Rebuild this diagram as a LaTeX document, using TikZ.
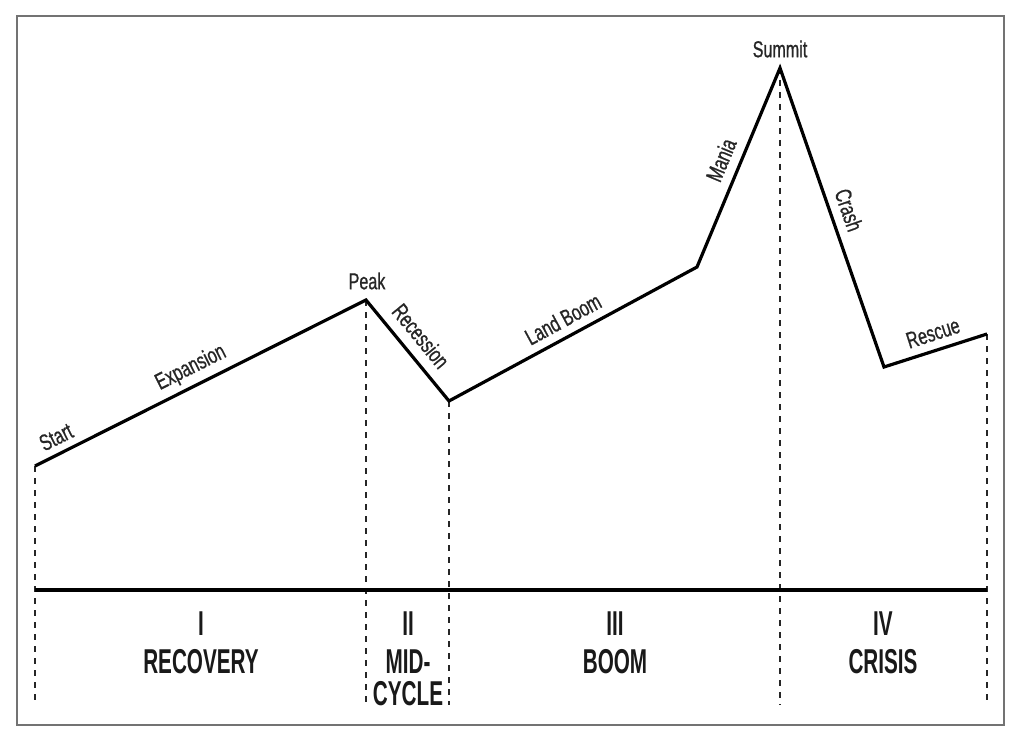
\documentclass[tikz,border=0pt]{standalone}
\usepackage{fontspec}
\newfontfamily\lblfont{Liberation Sans}[FakeStretch=0.7,FakeBold=0.8]
\newfontfamily\phasefont{Liberation Sans Bold}[FakeStretch=0.6]
\begin{document}
\begin{tikzpicture}[x=1pt,y=-1pt,
  curve/.style={line width=3.2pt, line join=miter, black},
  axisline/.style={line width=3.6pt, black},
  guide/.style={line width=1.5pt, dash pattern=on 6pt off 6pt, black!85},
  frame/.style={draw=black!55, line width=2pt},
  lbl/.style={font=\lblfont\fontsize{23}{25}\selectfont, inner sep=0pt, text=black!85},
  phase/.style={font=\phasefont\fontsize{34.5}{36}\selectfont, inner sep=0pt, anchor=base, text=black!90}]
\useasboundingbox (0,0) rectangle (1024,743);
\fill[white] (0,0) rectangle (1024,743);
\draw[frame] (17,16) rectangle (1004,725);

% vertices
\coordinate (S) at (35,466);
\coordinate (P) at (366,300);
\coordinate (R) at (449,401);
\coordinate (L) at (697,267);
\coordinate (M) at (780,68);
\coordinate (C) at (884,367);
\coordinate (E) at (987,334);
% bottoms of guides
\coordinate (Sb) at (35,705);
\coordinate (Pb) at (366,705);
\coordinate (Rb) at (449,705);
\coordinate (Mb) at (780,705);
\coordinate (Eb) at (987,705);
% axis ends
\coordinate (A1) at (35,590);
\coordinate (A2) at (987,590);

% guides
\draw[guide] (S) -- (Sb);
\draw[guide] (P) -- (Pb);
\draw[guide] (R) -- (Rb);
\draw[guide] (M) -- (Mb);
\draw[guide] (E) -- (Eb);

% axis
\draw[axisline] (A1) -- (A2);

% curve
\draw[curve] (S) -- (P) -- (R) -- (L) -- (M) -- (C) -- (E);

% curve labels
\node[lbl, rotate=26.6] (tstart) at (56,437) {Start};
\node[lbl, rotate=26.6] (texp) at (191,368) {Expansion};
\node[lbl] (tpeak) at (367,281) {Peak};
\node[lbl, rotate=-50.6] (trec) at (421,336) {Recession};
\node[lbl, rotate=28.4] (tland) at (563,319) {Land Boom};
\node[lbl, rotate=67.4] (tmania) at (721,160) {Mania};
\node[lbl] (tsummit) at (780,49) {Summit};
\node[lbl, rotate=-70.8] (tcrash) at (849,210) {Crash};
\node[lbl, rotate=17.8] (tresc) at (933,333) {Rescue};

% phase labels
\node[phase] (n1) at (201,635) {I};
\node[phase] (p1) at (201,673) {RECOVERY};
\node[phase] (n2) at (408,635) {II};
\node[phase] (p2a) at (408,673) {MID-};
\node[phase] (p2b) at (408,705) {CYCLE};
\node[phase] (n3) at (615,635) {III};
\node[phase] (p3) at (615,673) {BOOM};
\node[phase] (n4) at (883,635) {IV};
\node[phase] (p4) at (883,673) {CRISIS};
\end{tikzpicture}
\end{document}
